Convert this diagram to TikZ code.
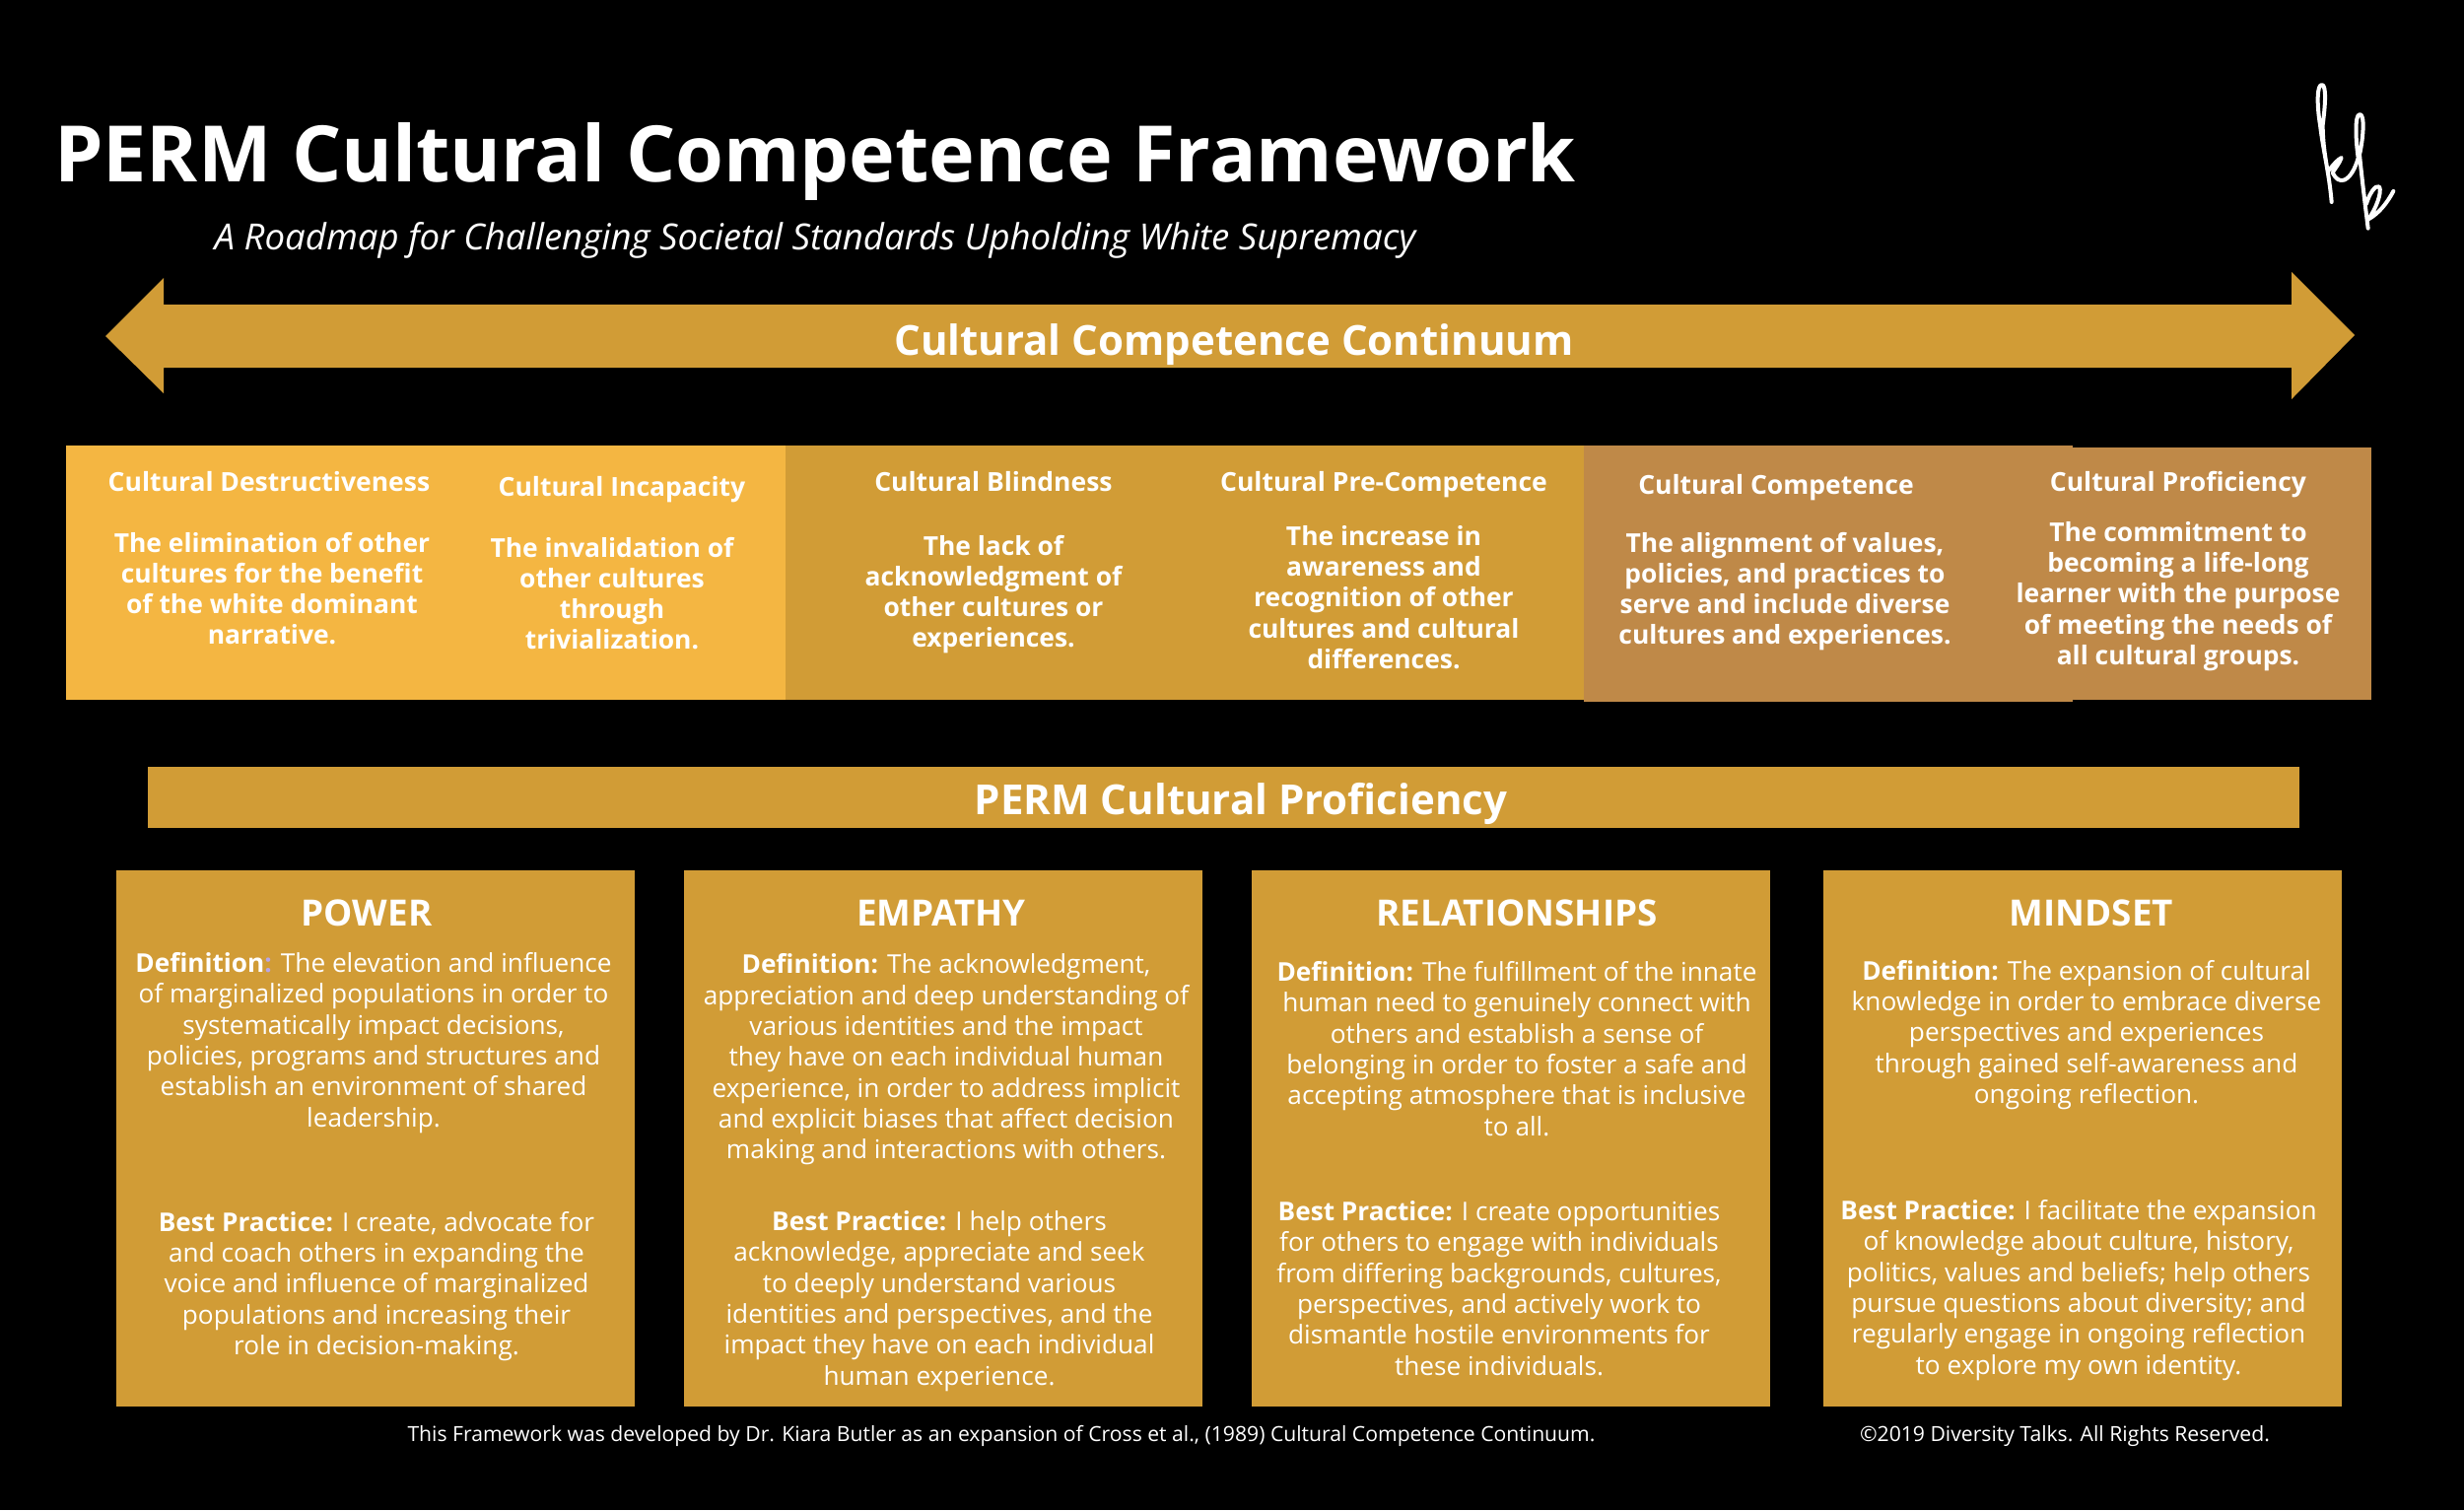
\documentclass[tikz,border=0pt]{standalone}
\usepackage{fontspec}
\setmainfont{Open Sans}
\definecolor{lightgold}{HTML}{F4B642}
\definecolor{midgold}{HTML}{D19C36}
\definecolor{browngold}{HTML}{BF8948}
\definecolor{lav}{HTML}{B8A6E8}
\tikzset{
  x=1pt,y=-1pt,
  txt/.style={text=white,align=center,inner sep=0pt,anchor=center},
  titletxt/.style={txt,font=\fontsize{79}{79}\selectfont\bfseries},
  subtxt/.style={txt,font=\fontsize{36.6}{37}\selectfont\itshape},
  bartxt/.style={txt,font=\fontsize{42}{42}\selectfont\bfseries},
  headtxt/.style={txt,font=\fontsize{26.5}{31}\selectfont\bfseries},
  desctxt/.style={txt,font=\fontsize{26.4}{31.2}\selectfont\bfseries},
  cardhead/.style={txt,font=\fontsize{36.8}{36.8}\selectfont\bfseries},
  cardtxt/.style={txt,font=\fontsize{26.2}{31.3}\selectfont},
  foottxt/.style={txt,font=\fontsize{21.15}{21.15}\selectfont},
  card/.style={fill=midgold},
  sig/.style={white,line width=4pt,line cap=round,line join=round},
}
\newcommand{\dfn}{\textbf{Definition:} }
\newcommand{\bp}{\textbf{Best Practice:} }
\begin{document}
\begin{tikzpicture}
\path[fill=black,use as bounding box] (0,0) rectangle (2500,1532);
\node[titletxt] (title) at (827,163.5) {PERM Cultural Competence Framework};
\node[subtxt] (subtitle) at (827,244) {A Roadmap for Challenging Societal Standards Upholding White Supremacy};
% arrow
\fill[midgold] (107,341) -- (166,282) -- (166,309) -- (2325,309) -- (2325,276) -- (2389,340) -- (2325,405) -- (2325,373) -- (166,373) -- (166,399) -- cycle;
\node[bartxt] (arrowlabel) at (1252,350) {Cultural Competence Continuum};
% band
\fill[browngold] (2000,454) rectangle (2406,710);
\fill[browngold] (1607,452) rectangle (2103,712);
\fill[midgold] (797,452) rectangle (1607,710);
\fill[lightgold] (67,452) rectangle (797,710);
\node[headtxt] (h1) at (273,489) {Cultural Destructiveness};
\node[desctxt] (d1) at (276,597) {The elimination of other\\cultures for the benefit\\of the white dominant\\narrative.};
\node[headtxt] (h2) at (631,497) {Cultural Incapacity};
\node[desctxt] (d2) at (621,602) {The invalidation of\\other cultures\\through\\trivialization.};
\node[headtxt] (h3) at (1008,489) {Cultural Blindness};
\node[desctxt] (d3) at (1008,603) {The lack of\\acknowledgment of\\other cultures or\\experiences.};
\node[headtxt] (h4) at (1404,492) {Cultural Pre-Competence};
\node[desctxt] (d4) at (1404,606) {The increase in\\awareness and\\recognition of other\\cultures and cultural\\differences.};
\node[headtxt] (h5) at (1802,495) {Cultural Competence};
\node[desctxt] (d5) at (1811,600) {The alignment of values,\\policies, and practices to\\serve and include diverse\\cultures and experiences.};
\node[headtxt] (h6) at (2210,492) {Cultural Proficiency};
\node[desctxt] (d6) at (2210,605) {The commitment to\\becoming a life-long\\learner with the purpose\\of meeting the needs of\\all cultural groups.};
% second bar
\fill[midgold] (150,778) rectangle (2333,840);
\node[bartxt] (perm) at (1259,815) {PERM Cultural Proficiency};
% cards
\fill[card] (118,883) rectangle (644,1427);
\fill[card] (694,883) rectangle (1220,1427);
\fill[card] (1270,883) rectangle (1796,1427);
\fill[card] (1850,883) rectangle (2376,1427);
\node[cardhead] (c1) at (372,926) {POWER};
\node[cardhead] (c2) at (955,926) {EMPATHY};
\node[cardhead] (c3) at (1539,926) {RELATIONSHIPS};
\node[cardhead] (c4) at (2122,926) {MINDSET};
\node[cardtxt] (c1a) at (379,1058) {\textbf{Definition{\color{lav}:}} The elevation and influence\\of marginalized populations in order to\\systematically impact decisions,\\policies, programs and structures and\\establish an environment of shared\\leadership.};
\node[cardtxt] (c1b) at (382,1305) {\bp I create, advocate for\\and coach others in expanding the\\voice and influence of marginalized\\populations and increasing their\\role in decision-making.};
\node[cardtxt] (c2a) at (960,1075) {\dfn The acknowledgment,\\appreciation and deep understanding of\\various identities and the impact\\they have on each individual human\\experience, in order to address implicit\\and explicit biases that affect decision\\making and interactions with others.};
\node[cardtxt] (c2b) at (953,1320) {\bp I help others\\acknowledge, appreciate and seek\\to deeply understand various\\identities and perspectives, and the\\impact they have on each individual\\human experience.};
\node[cardtxt] (c3a) at (1539,1064) {\dfn The fulfillment of the innate\\human need to genuinely connect with\\others and establish a sense of\\belonging in order to foster a safe and\\accepting atmosphere that is inclusive\\to all.};
\node[cardtxt] (c3b) at (1521,1307) {\bp I create opportunities\\for others to engage with individuals\\from differing backgrounds, cultures,\\perspectives, and actively work to\\dismantle hostile environments for\\these individuals.};
\node[cardtxt] (c4a) at (2117,1050) {\dfn The expansion of cultural\\knowledge in order to embrace diverse\\perspectives and experiences\\through gained self-awareness and\\ongoing reflection.};
\node[cardtxt] (c4b) at (2109,1309) {\bp I facilitate the expansion\\of knowledge about culture, history,\\politics, values and beliefs; help others\\pursue questions about diversity; and\\regularly engage in ongoing reflection\\to explore my own identity.};
\node[foottxt] (f1) at (1016,1457) {This Framework was developed by Dr. Kiara Butler as an expansion of Cross et al., (1989) Cultural Competence Continuum.};
\node[foottxt] (f2) at (2095,1457) {©2019 Diversity Talks. All Rights Reserved.};
% signature
\begin{scope}[xshift=2200pt,yshift=-50pt,x=0.3333pt,y=-0.3333pt]
\draw[sig]
 (497,465) .. controls (490,380) and (470,300) .. (462,230)
 .. controls (452,170) and (452,108) .. (467,108)
 .. controls (482,108) and (478,170) .. (470,230)
 .. controls (470,290) and (480,340) .. (485,372)
 .. controls (500,355) and (515,335) .. (527,330)
 .. controls (520,350) and (505,365) .. (500,376)
 .. controls (510,395) and (520,402) .. (535,398)
 .. controls (555,390) and (570,360) .. (578,330)
 .. controls (572,290) and (565,198) .. (583,198)
 .. controls (600,198) and (592,280) .. (582,320)
 .. controls (590,400) and (600,480) .. (608,545);
\draw[sig]
 (603,470) .. controls (612,440) and (630,412) .. (642,418)
 .. controls (652,435) and (630,490) .. (608,518)
 .. controls (640,500) and (665,470) .. (685,432);
\end{scope}
\end{tikzpicture}
\end{document}
